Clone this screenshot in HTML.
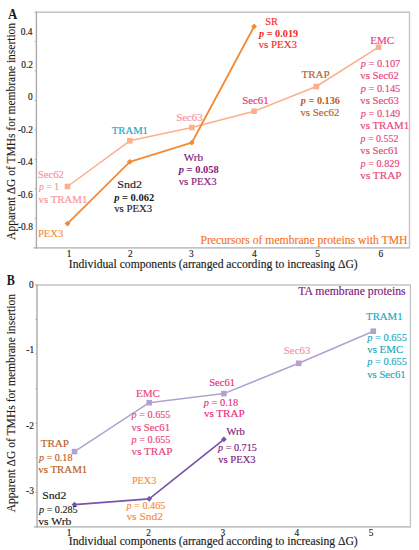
<!DOCTYPE html>
<html><head><meta charset="utf-8"><style>
html,body{margin:0;padding:0;background:#fff;}
body{width:419px;height:550px;overflow:hidden;}
svg{display:block;font-family:"Liberation Serif", serif;}
</style></head><body>
<svg width="419" height="550" viewBox="0 0 419 550">
<line x1="34.5" y1="12.2" x2="410" y2="12.2" stroke="#c4c4c4" stroke-width="1.4"/>
<line x1="409.5" y1="12.2" x2="409.5" y2="248" stroke="#c4c4c4" stroke-width="1.4"/>
<line x1="33.5" y1="247.9" x2="410" y2="247.9" stroke="#c4c4c4" stroke-width="1.6"/>
<line x1="36.4" y1="11.5" x2="36.4" y2="248.5" stroke="#aaaaaa" stroke-width="1.4"/>
<line x1="35" y1="285" x2="411" y2="285" stroke="#c4c4c4" stroke-width="1.3"/>
<line x1="410.4" y1="285" x2="410.4" y2="526.9" stroke="#c4c4c4" stroke-width="1.3"/>
<line x1="34" y1="526.9" x2="411" y2="526.9" stroke="#c4c4c4" stroke-width="1.6"/>
<line x1="37" y1="284.5" x2="37" y2="527.5" stroke="#aaaaaa" stroke-width="1.4"/>
<line x1="34.6" y1="41.49" x2="36.4" y2="41.49" stroke="#aaaaaa" stroke-width="0.8"/>
<line x1="34.6" y1="70.97" x2="36.4" y2="70.97" stroke="#aaaaaa" stroke-width="0.8"/>
<line x1="34.6" y1="100.46" x2="36.4" y2="100.46" stroke="#aaaaaa" stroke-width="0.8"/>
<line x1="34.6" y1="129.95" x2="36.4" y2="129.95" stroke="#aaaaaa" stroke-width="0.8"/>
<line x1="34.6" y1="159.44" x2="36.4" y2="159.44" stroke="#aaaaaa" stroke-width="0.8"/>
<line x1="34.6" y1="188.93" x2="36.4" y2="188.93" stroke="#aaaaaa" stroke-width="0.8"/>
<line x1="34.6" y1="218.41" x2="36.4" y2="218.41" stroke="#aaaaaa" stroke-width="0.8"/>
<line x1="35.2" y1="319.56" x2="37" y2="319.56" stroke="#aaaaaa" stroke-width="0.8"/>
<line x1="35.2" y1="354.11" x2="37" y2="354.11" stroke="#aaaaaa" stroke-width="0.8"/>
<line x1="35.2" y1="388.67" x2="37" y2="388.67" stroke="#aaaaaa" stroke-width="0.8"/>
<line x1="35.2" y1="423.23" x2="37" y2="423.23" stroke="#aaaaaa" stroke-width="0.8"/>
<line x1="35.2" y1="457.79" x2="37" y2="457.79" stroke="#aaaaaa" stroke-width="0.8"/>
<line x1="35.2" y1="492.34" x2="37" y2="492.34" stroke="#aaaaaa" stroke-width="0.8"/>
<polyline points="67.5,186.5 129.8,140.8 191.8,127.5 254.1,111.2 316.3,86.5 378.6,47.2" fill="none" stroke="#fbb08a" stroke-width="1.5" stroke-linejoin="round"/>
<polyline points="67.5,223.6 129.8,161.8 191.8,142.7 254.1,26.5" fill="none" stroke="#f58a35" stroke-width="1.8" stroke-linejoin="round"/>
<rect x="64.70" y="183.70" width="5.6" height="5.6" fill="#fbb08a"/>
<rect x="127.00" y="138.00" width="5.6" height="5.6" fill="#fbb08a"/>
<rect x="189.00" y="124.70" width="5.6" height="5.6" fill="#fbb08a"/>
<rect x="251.30" y="108.40" width="5.6" height="5.6" fill="#fbb08a"/>
<rect x="313.50" y="83.70" width="5.6" height="5.6" fill="#fbb08a"/>
<rect x="375.80" y="44.40" width="5.6" height="5.6" fill="#fbb08a"/>
<path d="M67.5 220.7L70.4 223.6L67.5 226.5L64.6 223.6Z" fill="#f58a35"/>
<path d="M129.8 158.9L132.70000000000002 161.8L129.8 164.70000000000002L126.9 161.8Z" fill="#f58a35"/>
<path d="M191.8 139.79999999999998L194.70000000000002 142.7L191.8 145.6L188.9 142.7Z" fill="#f58a35"/>
<path d="M254.1 23.6L257.0 26.5L254.1 29.4L251.2 26.5Z" fill="#f58a35"/>
<polyline points="74.5,451.6 149.2,402.7 223.9,393.6 298.7,363.3 373.3,331.2" fill="none" stroke="#b2a2d0" stroke-width="1.5" stroke-linejoin="round"/>
<polyline points="74.5,504.6 149.2,498.8 223.9,439.3" fill="none" stroke="#7855aa" stroke-width="1.7" stroke-linejoin="round"/>
<rect x="71.70" y="448.80" width="5.6" height="5.6" fill="#b2a2d0"/>
<rect x="146.40" y="399.90" width="5.6" height="5.6" fill="#b2a2d0"/>
<rect x="221.10" y="390.80" width="5.6" height="5.6" fill="#b2a2d0"/>
<rect x="295.90" y="360.50" width="5.6" height="5.6" fill="#b2a2d0"/>
<rect x="370.50" y="328.40" width="5.6" height="5.6" fill="#b2a2d0"/>
<path d="M74.5 501.70000000000005L77.4 504.6L74.5 507.5L71.6 504.6Z" fill="#7855aa"/>
<path d="M149.2 495.90000000000003L152.1 498.8L149.2 501.7L146.29999999999998 498.8Z" fill="#7855aa"/>
<path d="M223.9 436.40000000000003L226.8 439.3L223.9 442.2L221.0 439.3Z" fill="#7855aa"/>
<text transform="translate(15.4 239.9) rotate(-90)" font-size="11.5" fill="#1a1a1a" stroke="#1a1a1a" stroke-width="0.12" textLength="217" lengthAdjust="spacingAndGlyphs">Apparent ΔG of TMHs for membrane insertion</text>
<text transform="translate(15.4 512.3) rotate(-90)" font-size="11.5" fill="#1a1a1a" stroke="#1a1a1a" stroke-width="0.12" textLength="218.4" lengthAdjust="spacingAndGlyphs">Apparent ΔG of TMHs for membrane insertion</text>
<text x="8.00" y="18.70" fill="#1a1a1a" font-size="13.8" font-weight="bold" textLength="9.32" lengthAdjust="spacingAndGlyphs">A</text>
<text x="265.20" y="24.90" fill="#f52a22" stroke="#f52a22" stroke-width="0.15" font-size="10.9" textLength="12.65" lengthAdjust="spacingAndGlyphs">SR</text>
<text x="258.95" y="36.50" fill="#f52a22" font-size="10.9" font-weight="bold" textLength="39.28" lengthAdjust="spacingAndGlyphs"><tspan font-style="italic">p</tspan> = 0.019</text>
<text x="258.60" y="47.80" fill="#f52a22" stroke="#f52a22" stroke-width="0.15" font-size="10.9" textLength="38.39" lengthAdjust="spacingAndGlyphs">vs PEX3</text>
<text x="301.40" y="77.90" fill="#b95c22" stroke="#b95c22" stroke-width="0.15" font-size="10.9" textLength="28.20" lengthAdjust="spacingAndGlyphs">TRAP</text>
<text x="300.75" y="103.70" fill="#b95c22" font-size="10.9" font-weight="bold" textLength="39.23" lengthAdjust="spacingAndGlyphs"><tspan font-style="italic">p</tspan> = 0.136</text>
<text x="300.40" y="115.90" fill="#b95c22" stroke="#b95c22" stroke-width="0.15" font-size="10.9" textLength="38.93" lengthAdjust="spacingAndGlyphs">vs Sec62</text>
<text x="370.25" y="43.60" fill="#e8437a" stroke="#e8437a" stroke-width="0.15" font-size="10.9" textLength="23.97" lengthAdjust="spacingAndGlyphs">EMC</text>
<text x="360.75" y="66.50" fill="#e8437a" stroke="#e8437a" stroke-width="0.15" font-size="10.9" textLength="39.52" lengthAdjust="spacingAndGlyphs"><tspan font-style="italic">p</tspan> = 0.107</text>
<text x="360.30" y="79.05" fill="#e8437a" stroke="#e8437a" stroke-width="0.15" font-size="10.9" textLength="38.52" lengthAdjust="spacingAndGlyphs">vs Sec62</text>
<text x="360.75" y="91.60" fill="#e8437a" stroke="#e8437a" stroke-width="0.15" font-size="10.9" textLength="39.52" lengthAdjust="spacingAndGlyphs"><tspan font-style="italic">p</tspan> = 0.145</text>
<text x="360.30" y="104.15" fill="#e8437a" stroke="#e8437a" stroke-width="0.15" font-size="10.9" textLength="38.52" lengthAdjust="spacingAndGlyphs">vs Sec63</text>
<text x="360.75" y="116.70" fill="#e8437a" stroke="#e8437a" stroke-width="0.15" font-size="10.9" textLength="39.52" lengthAdjust="spacingAndGlyphs"><tspan font-style="italic">p</tspan> = 0.149</text>
<text x="360.30" y="129.25" fill="#e8437a" stroke="#e8437a" stroke-width="0.15" font-size="10.9" textLength="48.77" lengthAdjust="spacingAndGlyphs">vs TRAM1</text>
<text x="360.50" y="141.80" fill="#e8437a" stroke="#e8437a" stroke-width="0.15" font-size="10.9" textLength="38.07" lengthAdjust="spacingAndGlyphs"><tspan font-style="italic">p</tspan> = 0.552</text>
<text x="360.30" y="154.35" fill="#e8437a" stroke="#e8437a" stroke-width="0.15" font-size="10.9" textLength="38.42" lengthAdjust="spacingAndGlyphs">vs Sec61</text>
<text x="360.50" y="166.90" fill="#e8437a" stroke="#e8437a" stroke-width="0.15" font-size="10.9" textLength="39.03" lengthAdjust="spacingAndGlyphs"><tspan font-style="italic">p</tspan> = 0.829</text>
<text x="360.30" y="179.45" fill="#e8437a" stroke="#e8437a" stroke-width="0.15" font-size="10.9" textLength="41.27" lengthAdjust="spacingAndGlyphs">vs TRAP</text>
<text x="242.15" y="104.10" fill="#e92c7b" stroke="#e92c7b" stroke-width="0.15" font-size="10.9" textLength="26.41" lengthAdjust="spacingAndGlyphs">Sec61</text>
<text x="176.15" y="120.80" fill="#f98fa2" stroke="#f98fa2" stroke-width="0.15" font-size="10.9" textLength="26.52" lengthAdjust="spacingAndGlyphs">Sec63</text>
<text x="111.85" y="134.30" fill="#16a8be" stroke="#16a8be" stroke-width="0.15" font-size="10.9" textLength="36.10" lengthAdjust="spacingAndGlyphs">TRAM1</text>
<text x="37.70" y="177.60" fill="#f7929a" stroke="#f7929a" stroke-width="0.15" font-size="10.9" textLength="26.21" lengthAdjust="spacingAndGlyphs">Sec62</text>
<text x="38.95" y="190.05" fill="#f7929a" stroke="#f7929a" stroke-width="0.15" font-size="10.9" textLength="20.23" lengthAdjust="spacingAndGlyphs"><tspan font-style="italic">p</tspan> = 1</text>
<text x="38.60" y="202.50" fill="#f7929a" stroke="#f7929a" stroke-width="0.15" font-size="10.9" textLength="48.77" lengthAdjust="spacingAndGlyphs">vs TRAM1</text>
<text x="37.95" y="236.90" fill="#f88c3c" stroke="#f88c3c" stroke-width="0.15" font-size="10.9" textLength="25.36" lengthAdjust="spacingAndGlyphs">PEX3</text>
<text x="117.25" y="188.00" fill="#1a1a1a" stroke="#1a1a1a" stroke-width="0.15" font-size="10.9" textLength="24.70" lengthAdjust="spacingAndGlyphs">Snd2</text>
<text x="114.15" y="200.90" fill="#1a1a1a" font-size="10.9" font-weight="bold" textLength="40.07" lengthAdjust="spacingAndGlyphs"><tspan font-style="italic">p</tspan> = 0.062</text>
<text x="114.20" y="212.10" fill="#1a1a1a" stroke="#1a1a1a" stroke-width="0.15" font-size="10.9" textLength="37.99" lengthAdjust="spacingAndGlyphs">vs PEX3</text>
<text x="183.70" y="160.90" fill="#7d1a7a" stroke="#7d1a7a" stroke-width="0.15" font-size="10.9" textLength="19.38" lengthAdjust="spacingAndGlyphs">Wrb</text>
<text x="178.75" y="172.60" fill="#7d1a7a" font-size="10.9" font-weight="bold" textLength="40.07" lengthAdjust="spacingAndGlyphs"><tspan font-style="italic">p</tspan> = 0.058</text>
<text x="178.70" y="185.10" fill="#7d1a7a" stroke="#7d1a7a" stroke-width="0.15" font-size="10.9" textLength="38.03" lengthAdjust="spacingAndGlyphs">vs PEX3</text>
<text x="200.45" y="243.60" fill="#f5741f" stroke="#f5741f" stroke-width="0.15" font-size="11.6" textLength="207.05" lengthAdjust="spacingAndGlyphs">Precursors of membrane proteins with TMH</text>
<text x="68.85" y="267.70" fill="#1a1a1a" stroke="#1a1a1a" stroke-width="0.15" font-size="11.6" textLength="288.90" lengthAdjust="spacingAndGlyphs">Individual components (arranged according to increasing ΔG)</text>
<text x="20.75" y="35.00" fill="#1a1a1a" stroke="#1a1a1a" stroke-width="0.15" font-size="9.4">0.4</text>
<text x="21.25" y="67.60" fill="#1a1a1a" stroke="#1a1a1a" stroke-width="0.15" font-size="9.4">0.2</text>
<text x="28.00" y="100.20" fill="#1a1a1a" stroke="#1a1a1a" stroke-width="0.15" font-size="9.4">0</text>
<text x="18.00" y="132.80" fill="#1a1a1a" stroke="#1a1a1a" stroke-width="0.15" font-size="9.4">-0.2</text>
<text x="17.75" y="165.40" fill="#1a1a1a" stroke="#1a1a1a" stroke-width="0.15" font-size="9.4">-0.4</text>
<text x="17.75" y="197.90" fill="#1a1a1a" stroke="#1a1a1a" stroke-width="0.15" font-size="9.4">-0.6</text>
<text x="18.00" y="230.30" fill="#1a1a1a" stroke="#1a1a1a" stroke-width="0.15" font-size="9.4">-0.8</text>
<text x="66.80" y="256.70" fill="#1a1a1a" stroke="#1a1a1a" stroke-width="0.15" font-size="9.4">1</text>
<text x="127.95" y="256.70" fill="#1a1a1a" stroke="#1a1a1a" stroke-width="0.15" font-size="9.4">2</text>
<text x="188.93" y="256.70" fill="#1a1a1a" stroke="#1a1a1a" stroke-width="0.15" font-size="9.4">3</text>
<text x="251.93" y="256.70" fill="#1a1a1a" stroke="#1a1a1a" stroke-width="0.15" font-size="9.4">4</text>
<text x="315.20" y="256.70" fill="#1a1a1a" stroke="#1a1a1a" stroke-width="0.15" font-size="9.4">5</text>
<text x="378.62" y="256.70" fill="#1a1a1a" stroke="#1a1a1a" stroke-width="0.15" font-size="9.4">6</text>
<text x="6.65" y="285.20" fill="#1a1a1a" font-size="13.8" font-weight="bold" textLength="8.07" lengthAdjust="spacingAndGlyphs">B</text>
<text x="298.35" y="295.00" fill="#82167a" stroke="#82167a" stroke-width="0.15" font-size="11.6" textLength="107.33" lengthAdjust="spacingAndGlyphs">TA membrane proteins</text>
<text x="68.85" y="545.00" fill="#1a1a1a" stroke="#1a1a1a" stroke-width="0.15" font-size="11.6" textLength="288.90" lengthAdjust="spacingAndGlyphs">Individual components (arranged according to increasing ΔG)</text>
<text x="29.10" y="288.00" fill="#1a1a1a" stroke="#1a1a1a" stroke-width="0.15" font-size="9.4">0</text>
<text x="26.35" y="352.90" fill="#1a1a1a" stroke="#1a1a1a" stroke-width="0.15" font-size="9.4">-1</text>
<text x="26.10" y="428.90" fill="#1a1a1a" stroke="#1a1a1a" stroke-width="0.15" font-size="9.4">-2</text>
<text x="26.10" y="494.20" fill="#1a1a1a" stroke="#1a1a1a" stroke-width="0.15" font-size="9.4">-3</text>
<text x="66.80" y="535.60" fill="#1a1a1a" stroke="#1a1a1a" stroke-width="0.15" font-size="9.4">1</text>
<text x="146.15" y="535.60" fill="#1a1a1a" stroke="#1a1a1a" stroke-width="0.15" font-size="9.4">2</text>
<text x="220.43" y="535.60" fill="#1a1a1a" stroke="#1a1a1a" stroke-width="0.15" font-size="9.4">3</text>
<text x="294.62" y="535.60" fill="#1a1a1a" stroke="#1a1a1a" stroke-width="0.15" font-size="9.4">4</text>
<text x="368.80" y="535.60" fill="#1a1a1a" stroke="#1a1a1a" stroke-width="0.15" font-size="9.4">5</text>
<text x="40.70" y="447.20" fill="#b95c22" stroke="#b95c22" stroke-width="0.15" font-size="10.9" textLength="28.35" lengthAdjust="spacingAndGlyphs">TRAP</text>
<text x="38.95" y="461.20" fill="#b95c22" stroke="#b95c22" stroke-width="0.15" font-size="10.9" textLength="33.54" lengthAdjust="spacingAndGlyphs"><tspan font-style="italic">p</tspan> = 0.18</text>
<text x="38.20" y="473.00" fill="#b95c22" stroke="#b95c22" stroke-width="0.15" font-size="10.9" textLength="49.07" lengthAdjust="spacingAndGlyphs">vs TRAM1</text>
<text x="135.95" y="396.60" fill="#e8437a" stroke="#e8437a" stroke-width="0.15" font-size="10.9" textLength="23.97" lengthAdjust="spacingAndGlyphs">EMC</text>
<text x="131.60" y="418.40" fill="#e8437a" stroke="#e8437a" stroke-width="0.15" font-size="10.9" textLength="38.78" lengthAdjust="spacingAndGlyphs"><tspan font-style="italic">p</tspan> = 0.655</text>
<text x="131.60" y="430.70" fill="#e8437a" stroke="#e8437a" stroke-width="0.15" font-size="10.9" textLength="38.42" lengthAdjust="spacingAndGlyphs">vs Sec61</text>
<text x="131.60" y="443.00" fill="#e8437a" stroke="#e8437a" stroke-width="0.15" font-size="10.9" textLength="38.78" lengthAdjust="spacingAndGlyphs"><tspan font-style="italic">p</tspan> = 0.655</text>
<text x="131.60" y="455.30" fill="#e8437a" stroke="#e8437a" stroke-width="0.15" font-size="10.9" textLength="40.82" lengthAdjust="spacingAndGlyphs">vs TRAP</text>
<text x="209.25" y="385.50" fill="#e92c7b" stroke="#e92c7b" stroke-width="0.15" font-size="10.9" textLength="25.78" lengthAdjust="spacingAndGlyphs">Sec61</text>
<text x="203.80" y="405.50" fill="#e92c7b" stroke="#e92c7b" stroke-width="0.15" font-size="10.9" textLength="34.33" lengthAdjust="spacingAndGlyphs"><tspan font-style="italic">p</tspan> = 0.18</text>
<text x="203.90" y="417.30" fill="#e92c7b" stroke="#e92c7b" stroke-width="0.15" font-size="10.9" textLength="40.82" lengthAdjust="spacingAndGlyphs">vs TRAP</text>
<text x="283.85" y="354.40" fill="#f98fa2" stroke="#f98fa2" stroke-width="0.15" font-size="10.9" textLength="26.47" lengthAdjust="spacingAndGlyphs">Sec63</text>
<text x="366.05" y="319.60" fill="#16a8be" stroke="#16a8be" stroke-width="0.15" font-size="10.9" textLength="36.56" lengthAdjust="spacingAndGlyphs">TRAM1</text>
<text x="367.20" y="340.70" fill="#16a8be" stroke="#16a8be" stroke-width="0.15" font-size="10.9" textLength="39.71" lengthAdjust="spacingAndGlyphs"><tspan font-style="italic">p</tspan> = 0.655</text>
<text x="367.20" y="353.07" fill="#16a8be" stroke="#16a8be" stroke-width="0.15" font-size="10.9" textLength="36.02" lengthAdjust="spacingAndGlyphs">vs EMC</text>
<text x="367.20" y="365.44" fill="#16a8be" stroke="#16a8be" stroke-width="0.15" font-size="10.9" textLength="39.71" lengthAdjust="spacingAndGlyphs"><tspan font-style="italic">p</tspan> = 0.655</text>
<text x="367.20" y="377.81" fill="#16a8be" stroke="#16a8be" stroke-width="0.15" font-size="10.9" textLength="38.42" lengthAdjust="spacingAndGlyphs">vs Sec61</text>
<text x="226.50" y="435.00" fill="#7d1a7a" stroke="#7d1a7a" stroke-width="0.15" font-size="10.9" textLength="18.36" lengthAdjust="spacingAndGlyphs">Wrb</text>
<text x="218.00" y="451.20" fill="#7d1a7a" stroke="#7d1a7a" stroke-width="0.15" font-size="10.9" textLength="38.88" lengthAdjust="spacingAndGlyphs"><tspan font-style="italic">p</tspan> = 0.715</text>
<text x="218.30" y="463.00" fill="#7d1a7a" stroke="#7d1a7a" stroke-width="0.15" font-size="10.9" textLength="37.38" lengthAdjust="spacingAndGlyphs">vs PEX3</text>
<text x="131.95" y="484.30" fill="#f88c3c" stroke="#f88c3c" stroke-width="0.15" font-size="10.9" textLength="24.28" lengthAdjust="spacingAndGlyphs">PEX3</text>
<text x="126.45" y="508.70" fill="#f88c3c" stroke="#f88c3c" stroke-width="0.15" font-size="10.9" textLength="39.01" lengthAdjust="spacingAndGlyphs"><tspan font-style="italic">p</tspan> = 0.465</text>
<text x="126.40" y="520.10" fill="#f88c3c" stroke="#f88c3c" stroke-width="0.15" font-size="10.9" textLength="36.54" lengthAdjust="spacingAndGlyphs">vs Snd2</text>
<text x="42.15" y="498.60" fill="#1a1a1a" stroke="#1a1a1a" stroke-width="0.15" font-size="10.9" textLength="24.18" lengthAdjust="spacingAndGlyphs">Snd2</text>
<text x="39.05" y="512.90" fill="#1a1a1a" stroke="#1a1a1a" stroke-width="0.15" font-size="10.9" textLength="38.58" lengthAdjust="spacingAndGlyphs"><tspan font-style="italic">p</tspan> = 0.285</text>
<text x="38.30" y="525.10" fill="#1a1a1a" stroke="#1a1a1a" stroke-width="0.15" font-size="10.9" textLength="32.95" lengthAdjust="spacingAndGlyphs">vs Wrb</text>
</svg>
</body></html>
